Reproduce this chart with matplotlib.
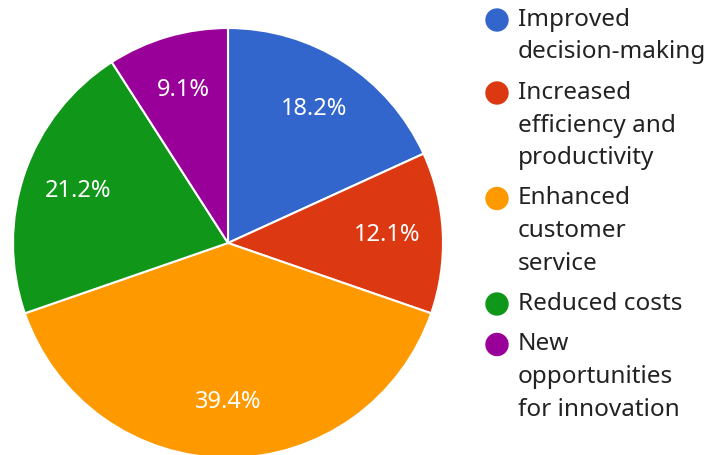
import matplotlib
matplotlib.use("Agg")
import matplotlib.pyplot as plt
from matplotlib.patches import Circle

plt.rcParams['font.family'] = ['Noto Sans', 'DejaVu Sans']

categories = ["Improved\ndecision-making", "Increased\nefficiency and\nproductivity",
              "Enhanced\ncustomer\nservice", "Reduced costs",
              "New\nopportunities\nfor innovation"]
values = [6, 4, 13, 7, 3]
colors = ["#3366cc", "#dc3912", "#ff9900", "#109618", "#990099"]

W, H = 709, 455
fig = plt.figure(figsize=(W / 100, H / 100), dpi=100)
cx, cy, r = 228, 243, 215
ax = fig.add_axes([(cx - r) / W, (H - cy - r) / H, 2 * r / W, 2 * r / H])
wedges, texts, autotexts = ax.pie(
    values, colors=colors, startangle=90, counterclock=False,
    autopct='%1.1f%%', pctdistance=0.74,
    wedgeprops=dict(edgecolor='white', linewidth=1.5),
    textprops=dict(color='white', fontsize=17))
ax.set_xlim(-1, 1)
ax.set_ylim(-1, 1)
ax.set_aspect('equal')
ax.axis('off')

# legend drawn manually
lax = fig.add_axes([0, 0, 1, 1])
lax.set_xlim(0, W)
lax.set_ylim(H, 0)
lax.axis('off')
line_h = 32.5
gap = 8
y = 20
for lab, col in zip(categories, colors):
    lax.add_patch(Circle((497, y), 11, color=col))
    lines = lab.split("\n")
    for i, ln in enumerate(lines):
        lax.text(518, y + i * line_h, ln, fontsize=17.5, color='#222222',
                 va='center', ha='left')
    y += len(lines) * line_h + gap

fig.savefig("out.png", dpi=100)
